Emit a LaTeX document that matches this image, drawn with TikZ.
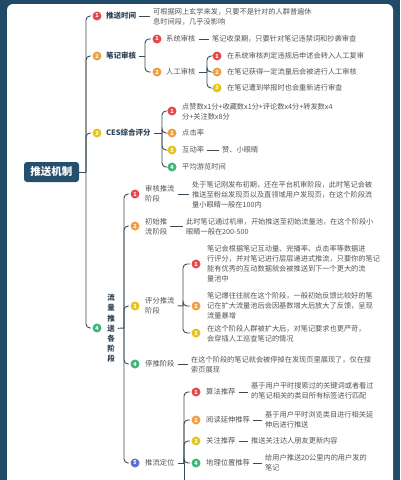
\documentclass[tikz,border=0pt]{standalone}
\usepackage{fontspec}
\setmainfont{Noto Sans CJK SC}
\definecolor{framec}{HTML}{1F4A68}
\definecolor{rootc}{HTML}{24506E}
\definecolor{linec}{HTML}{3A4B57}
\definecolor{headc}{HTML}{2E4456}
\definecolor{bodyc}{HTML}{555555}
\definecolor{nred}{HTML}{E5484D}
\definecolor{norange}{HTML}{EFA044}
\definecolor{nyellow}{HTML}{E6C41E}
\definecolor{ngreen}{HTML}{3DB77A}
\definecolor{nblue}{HTML}{5C6FD8}
\begin{document}
\begin{tikzpicture}[x=1pt, y=-1pt,
    conn/.style={draw=linec, line width=0.9pt, rounded corners=4pt},
    bul/.style={circle, inner sep=0pt, minimum size=9pt, text=white, font=\fontsize{5.5}{6}\selectfont\bfseries},
    head/.style={anchor=west, inner sep=0pt, text=headc, font=\fontsize{7.5}{10}\selectfont\bfseries},
    lab/.style={anchor=west, inner sep=0pt, text=bodyc, align=left, font=\fontsize{7.3}{10}\selectfont},
    body/.style={anchor=west, inner sep=0pt, text=bodyc, align=left, font=\fontsize{7.2}{10}\selectfont}]
      % --- frame ---
      \useasboundingbox (0,0) rectangle (400,480);
      \fill[framec] (0,0) rectangle (400,480);
      \begin{scope}
        \clip (0,0) rectangle (400,480);
        \fill[white, rounded corners=6pt] (7,4) rectangle (393,500);
      \end{scope}
      % --- root ---
      \node[fill=rootc, rounded corners=3pt, minimum width=55pt, minimum height=20pt,
        text=white, font=\fontsize{10.5}{12}\selectfont\bfseries] (root) at (51.5,172) {推送机制};
      % --- numbered bullets ---
      \foreach \nm/\x/\y/\col/\num in {b1/97/16/nred/1, b2/97/56/norange/2, b3/97/133/nyellow/3,
          b4/97/328/ngreen/4, b21/157/39/nred/1, b22/157/72/norange/2, b221/217/56/nred/1,
          b222/217/72/norange/2, b223/217/88/nyellow/3, b31/172/111/nred/1, b32/172/133/norange/2,
          b33/172/150/nyellow/3, b34/172/167/ngreen/4, b41/135/194/nred/1, b42/135/226/norange/2,
          b43/135/306/nyellow/3, b44/135/364/ngreen/4, b45/135/463/nblue/5, b431/196/264/nred/1,
          b432/196/306/norange/2, b433/196/333/nyellow/3, b451/196/392/nred/1, b452/196/420/norange/2,
          b453/196/441/nyellow/3, b454/196/463/ngreen/4} {
        \node[bul, fill=\col] (\nm) at (\x,\y) {\num};
      }
      % --- (1) 推送时间 ---
      \node[head] (l1) at (106,16) {推送时间};
      \node[body] (t1) at (153,16.5) {可根据网上玄学来发，只要不是针对的人群普遍休\\息时间段，几乎没影响};
      % --- (2) 笔记审核 ---
      \node[head] (l2) at (106,56) {笔记审核};
      \node[lab] (l21) at (166,39) {系统审核};
      \node[body] (t21) at (212,39) {笔记收录期，只要针对笔记违禁词和抄袭审查};
      \node[lab] (l22) at (166,72) {人工审核};
      \node[body] (t221) at (227,56) {在系统审核判定违规后申述会转入人工复审};
      \node[body] (t222) at (227,72) {在笔记获得一定流量后会被进行人工审核};
      \node[body] (t223) at (227,88) {在笔记遭到举报时也会重新进行审查};
      % --- (3) CES综合评分 ---
      \node[head] (l3) at (106,133) {CES综合评分};
      \node[body] (t31) at (182,111.5) {点赞数x1分+收藏数x1分+评论数x4分+转发数x4\\分+关注数x8分};
      \node[lab] (l32) at (182,133) {点击率};
      \node[lab] (l33) at (182,150) {互动率};
      \node[body] (t33) at (222,150) {赞、小眼睛};
      \node[lab] (l34) at (182,167) {平均游览时间};
      % --- (4) 流量推送各阶段 ---
      \node[head, anchor=center, align=center, font=\fontsize{7.5}{10.2}\selectfont\bfseries] (l4)
        at (111,328.5) {流\\量\\推\\送\\各\\阶\\段};
      \node[lab] (l41) at (145,194) {审核推流\\阶段};
      \node[body] (t41) at (192,194.5) {处于笔记刚发布初期，还在平台机审阶段，此时笔记会被\\推送至粉丝发现页以及直领域用户发现页，在这个阶段流\\量小眼睛一般在100内};
      \node[lab] (l42) at (145,226.5) {初始推\\流阶段};
      \node[body] (t42) at (186,226.5) {此时笔记通过机审，开始推送至初始流量池，在这个阶段小\\眼睛一般在200-500};
      \node[lab] (l43) at (145,305.5) {评分推流\\阶段};
      \node[body] (t431) at (207,263.5) {笔记会根据笔记互动量、完播率、点击率等数据进\\行评分，并对笔记进行层层递进式推流，只要你的笔记\\能有优秀的互动数据就会被推送到下一个更大的流\\量池中};
      \node[body] (t432) at (207,305.5) {笔记爆往往就在这个阶段，一般初始反馈比较好的笔\\记在扩大流量池后会因基数增大后放大了反馈，呈现\\流量暴增};
      \node[body] (t433) at (207,333.5) {在这个阶段人群被扩大后，对笔记要求也更严苛，\\会穿插人工巡查笔记的情况};
      \node[lab] (l44) at (145,364) {停推阶段};
      \node[body] (t44) at (191,365) {在这个阶段的笔记就会被停掉在发现页里展现了，仅在搜\\索页展现};
      \node[lab] (l45) at (145,463) {推流定位};
      \node[lab] (l451) at (206,392) {算法推荐};
      \node[body] (t451) at (251,391) {基于用户平时搜索过的关键词或者看过\\的笔记相关的类目所有标签进行匹配};
      \node[lab] (l452) at (206,420) {阅读延伸推荐};
      \node[body] (t452) at (265,419.5) {基于用户平时浏览类目进行相关延\\伸后进行推送};
      \node[lab] (l453) at (206,441) {关注推荐};
      \node[body] (t453) at (251,441) {推送关注达人朋友更新内容};
      \node[lab] (l454) at (206,463) {地理位置推荐};
      \node[body] (t454) at (265,462.5) {给用户推送20公里内的用户发的\\笔记};
      % --- branch points ---
      \coordinate (k0) at (86,172);
      \coordinate (k2) at (145,56);
      \coordinate (k22) at (207,72);
      \coordinate (k3) at (162,133);
      \coordinate (k4) at (124,328);
      \coordinate (k43) at (183,306);
      \coordinate (k45) at (184,463);
      \coordinate (k45e) at (184,485);
      % --- connectors ---
      \draw[conn] (root.east) -- (k0);
      \foreach \b in {b1,b2,b3,b4} {
        \draw[conn, shorten >=1.5pt] (k0) |- (\b.west);
      }
      \draw[conn, shorten <=3pt] (l2.east) -- (k2);
      \foreach \b in {b21,b22} {
        \draw[conn, shorten >=1.5pt] (k2) |- (\b.west);
      }
      \draw[conn, shorten <=3pt] (l22.east) -- (k22);
      \foreach \b in {b221,b222,b223} {
        \draw[conn, shorten >=1.5pt] (k22) |- (\b.west);
      }
      \draw[conn, shorten <=3pt] (l3.east) -- (k3);
      \foreach \b in {b31,b32,b33,b34} {
        \draw[conn, shorten >=1.5pt] (k3) |- (\b.west);
      }
      \draw[conn, shorten <=3pt] (l4.east) -- (k4);
      \foreach \b in {b41,b42,b43,b44,b45} {
        \draw[conn, shorten >=1.5pt] (k4) |- (\b.west);
      }
      \draw[conn, shorten <=3pt] (l43.east) -- (k43);
      \foreach \b in {b431,b432,b433} {
        \draw[conn, shorten >=1.5pt] (k43) |- (\b.west);
      }
      \draw[conn, shorten <=3pt] (l45.east) -- (k45);
      \draw[conn] (k45) -- (k45e);
      \foreach \b in {b451,b452,b453,b454} {
        \draw[conn, shorten >=1.5pt] (k45) |- (\b.west);
      }
      % leaf links
      \foreach \l/\t in {l1/t1, l21/t21, l33/t33, l41/t41, l42/t42, l44/t44,
          l451/t451, l452/t452, l453/t453, l454/t454} {
        \draw[conn, shorten <=3pt, shorten >=3pt] (\l.east) -- (\l.east -| \t.west);
      }
\end{tikzpicture}
\end{document}
